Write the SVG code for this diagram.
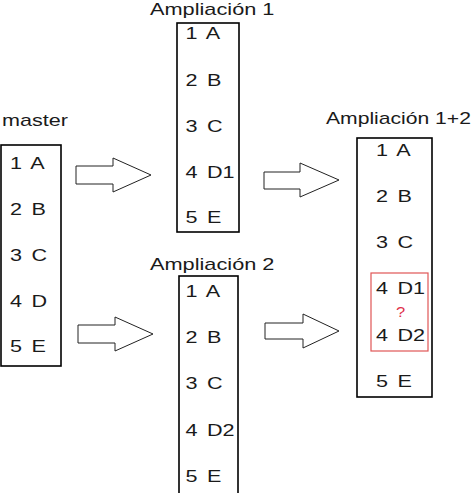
<svg xmlns="http://www.w3.org/2000/svg" width="474" height="493" viewBox="0 0 474 493">
<style>
.t{font-family:"Liberation Sans",Arial,sans-serif;font-size:16px;fill:#1a1a1a;word-spacing:2.5px}
.h{font-family:"Liberation Sans",Arial,sans-serif;font-size:16px;fill:#1a1a1a}
.box{fill:#fff;stroke:#000;stroke-width:1.6}
.arr{fill:#fff;stroke:#222;stroke-width:1}
.red{fill:none;stroke:#e05555;stroke-width:1.2}
.q{font-family:"Liberation Sans",Arial,sans-serif;font-size:15px;fill:#e0304a}
</style>
<rect width="474" height="493" fill="#fff"/>
<g id="master">
<text class="h" transform="translate(2,126) scale(1.35,1)">master</text>
<rect class="box" x="1" y="145" width="60" height="221"/>
<text class="t" transform="translate(10,169) scale(1.35,1)">1 A</text>
<text class="t" transform="translate(10,215) scale(1.35,1)">2 B</text>
<text class="t" transform="translate(10,261) scale(1.35,1)">3 C</text>
<text class="t" transform="translate(10,307) scale(1.35,1)">4 D</text>
<text class="t" transform="translate(10,352) scale(1.35,1)">5 E</text>
</g>
<g id="ampliacion1">
<text class="h" transform="translate(150,15) scale(1.36,1)">Ampliación 1</text>
<rect class="box" x="177" y="23" width="62" height="209"/>
<text class="t" transform="translate(185.5,39) scale(1.35,1)">1 A</text>
<text class="t" transform="translate(185.5,86) scale(1.35,1)">2 B</text>
<text class="t" transform="translate(185.5,132) scale(1.35,1)">3 C</text>
<text class="t" transform="translate(185.5,178) scale(1.35,1)">4 D1</text>
<text class="t" transform="translate(185.5,223) scale(1.35,1)">5 E</text>
</g>
<g id="ampliacion2">
<text class="h" transform="translate(150,270) scale(1.36,1)">Ampliación 2</text>
<rect class="box" x="179" y="276" width="59" height="230"/>
<text class="t" transform="translate(185.5,297) scale(1.35,1)">1 A</text>
<text class="t" transform="translate(185.5,343) scale(1.35,1)">2 B</text>
<text class="t" transform="translate(185.5,389) scale(1.35,1)">3 C</text>
<text class="t" transform="translate(185.5,436) scale(1.35,1)">4 D2</text>
<text class="t" transform="translate(185.5,482) scale(1.35,1)">5 E</text>
</g>
<g id="ampliacion12">
<text class="h" transform="translate(326,124) scale(1.32,1)">Ampliación 1+2</text>
<rect class="box" x="357" y="138" width="75" height="259"/>
<text class="t" transform="translate(376,156) scale(1.35,1)">1 A</text>
<text class="t" transform="translate(376,202) scale(1.35,1)">2 B</text>
<text class="t" transform="translate(376,248) scale(1.35,1)">3 C</text>
<rect class="red" x="371" y="273" width="57" height="78"/>
<text class="t" transform="translate(376,294) scale(1.35,1)">4 D1</text>
<text class="q" transform="translate(396,317) scale(1.1,1)">?</text>
<text class="t" transform="translate(376,341) scale(1.35,1)">4 D2</text>
<text class="t" transform="translate(376,387) scale(1.35,1)">5 E</text>
</g>
<g id="connectors">
<polygon class="arr" points="76,166 113,166 113,158 151,175 113,192 113,184 76,184"/>
<polygon class="arr" points="78,325 115,325 115,317 153,334 115,351 115,343 78,343"/>
<polygon class="arr" points="264,172 300,172 300,163 339,180 300,197 300,189 264,189"/>
<polygon class="arr" points="265,323 303,323 303,314 339,331 303,348 303,339 265,339"/>
</g>
</svg>
